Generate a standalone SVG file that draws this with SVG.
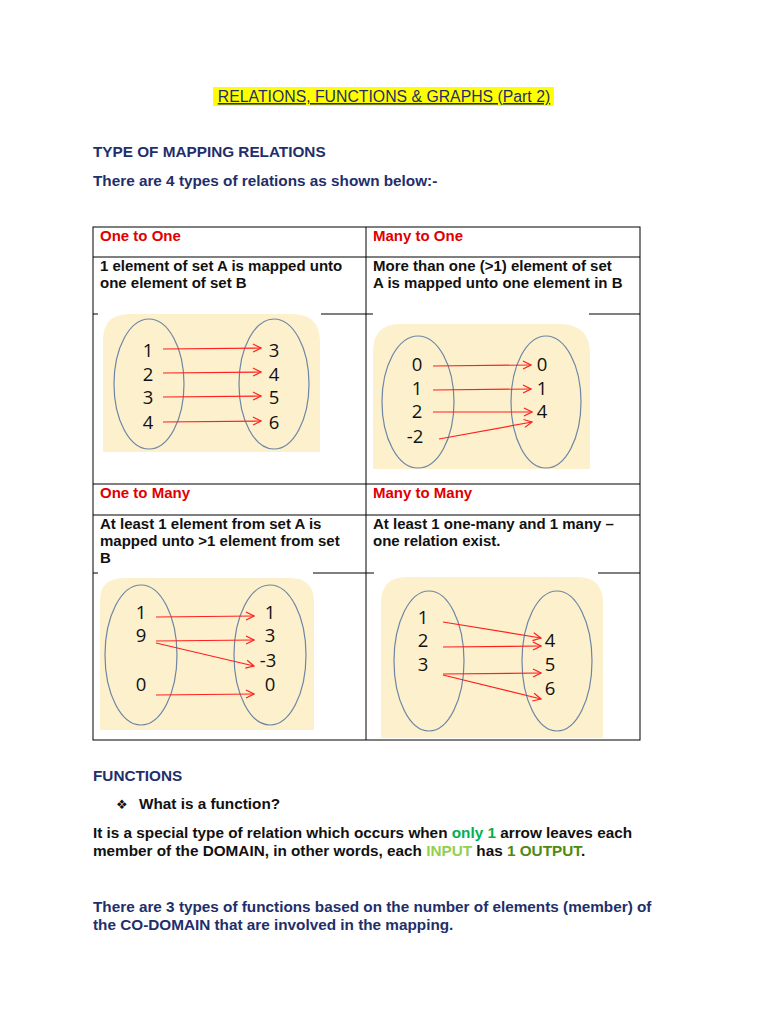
<svg xmlns="http://www.w3.org/2000/svg" width="768" height="1024" viewBox="0 0 768 1024">
<defs>
<marker id="ah" markerWidth="10" markerHeight="10" refX="9" refY="5" orient="auto" markerUnits="userSpaceOnUse"><path d="M1,1 L9,5 L1,9" fill="none" stroke="#ff2020" stroke-width="1.2"/></marker>
</defs>
<style>
text{font-family:"Liberation Sans",Arial,sans-serif}
.b{font-weight:bold;font-size:15px;fill:#111}
.n{font-weight:bold;font-size:15.3px;fill:#1f2f6b}
.r{font-weight:bold;font-size:15px;fill:#e00000}
.p{font-weight:bold;font-size:15.3px;fill:#111}
.num{font-family:"Open Sans","Liberation Sans",sans-serif;font-size:18.5px;fill:#111;text-anchor:middle}
.bg{fill:#fdf0cc}
.el{fill:none;stroke:#6d86a5;stroke-width:1.2}
.ar{stroke:#ff2020;stroke-width:1.2;fill:none;marker-end:url(#ah)}
.tl{stroke:#000;stroke-width:1}
</style>
<rect width="768" height="1024" fill="#fff"/>
<rect x="213" y="87" width="341" height="19" fill="#ffff00"/>
<text x="384" y="102" text-anchor="middle" style="font-size:15.8px;fill:#1f2f6b;text-decoration:underline">RELATIONS, FUNCTIONS &amp; GRAPHS (Part 2)</text>
<text x="93" y="157" class="n">TYPE OF MAPPING RELATIONS</text>
<text x="93" y="186" class="n">There are 4 types of relations as shown below:-</text>
<g id="table">
<rect x="93" y="227" width="547" height="513" fill="none" class="tl"/>
<line x1="366" y1="227" x2="366" y2="740" class="tl"/>
<line x1="93" y1="257" x2="640" y2="257" class="tl"/>
<line x1="93" y1="484" x2="640" y2="484" class="tl"/>
<line x1="93" y1="515" x2="640" y2="515" class="tl"/>
<line x1="93" y1="314" x2="98" y2="314" class="tl"/>
<line x1="321" y1="314" x2="373" y2="314" class="tl"/>
<line x1="589" y1="314" x2="640" y2="314" class="tl"/>
<line x1="93" y1="573" x2="98" y2="573" class="tl"/>
<line x1="313" y1="573" x2="374" y2="573" class="tl"/>
<line x1="598" y1="573" x2="640" y2="573" class="tl"/>
<text x="100" y="241" class="r">One to One</text>
<text x="373" y="241" class="r">Many to One</text>
<text x="100" y="271" class="b">1 element of set A is mapped unto</text>
<text x="100" y="288" class="b">one element of set B</text>
<text x="373" y="271" class="b">More than one (&gt;1) element of set</text>
<text x="373" y="288" class="b">A is mapped unto one element in B</text>
<text x="100" y="498" class="r">One  to Many</text>
<text x="373" y="498" class="r">Many to Many</text>
<text x="100" y="529" class="b">At least 1 element from set A is</text>
<text x="100" y="546" class="b">mapped unto &gt;1 element from set</text>
<text x="100" y="563" class="b">B</text>
<text x="373" y="529" class="b">At least 1 one-many and 1 many –</text>
<text x="373" y="546" class="b">one relation exist.</text>
</g>
<g id="oneToOne">
<path class="bg" d="M103,452 V340 Q103,314 130,314 H292 Q320,314 320,342 V452 Z"/>
<ellipse class="el" cx="149" cy="384" rx="35" ry="65"/>
<ellipse class="el" cx="274" cy="384" rx="35" ry="65"/>
<text class="num" x="148" y="357">1</text><text class="num" x="148" y="381">2</text><text class="num" x="148" y="404">3</text><text class="num" x="148" y="429">4</text>
<text class="num" x="274" y="357">3</text><text class="num" x="274" y="381">4</text><text class="num" x="274" y="404">5</text><text class="num" x="274" y="429">6</text>
</g>
<g id="manyToOne">
<path class="bg" d="M373,469 V352 Q373,324 400,324 H560 Q590,324 590,354 V469 Z"/>
<ellipse class="el" cx="418" cy="402" rx="36" ry="66"/>
<ellipse class="el" cx="546" cy="402" rx="35" ry="66"/>
<text class="num" x="417" y="371">0</text><text class="num" x="417" y="395">1</text><text class="num" x="417" y="418">2</text><text class="num" x="415" y="443">-2</text>
<text class="num" x="542" y="371">0</text><text class="num" x="542" y="395">1</text><text class="num" x="542" y="418">4</text>
</g>
<g id="oneToMany">
<path class="bg" d="M100,730 V600 Q100,578 125,578 H290 Q314,578 314,602 V730 Z"/>
<ellipse class="el" cx="141" cy="655" rx="36" ry="70"/>
<ellipse class="el" cx="270" cy="655" rx="36" ry="70"/>
<text class="num" x="141" y="619">1</text><text class="num" x="141" y="642">9</text><text class="num" x="141" y="691">0</text>
<text class="num" x="270" y="619">1</text><text class="num" x="270" y="642">3</text><text class="num" x="268" y="667">-3</text><text class="num" x="270" y="691">0</text>
</g>
<g id="manyToMany">
<path class="bg" d="M381,738 V603 Q381,577 407,577 H577 Q603,577 603,603 V738 Z"/>
<ellipse class="el" cx="429" cy="661" rx="35" ry="70"/>
<ellipse class="el" cx="557" cy="661" rx="35" ry="70"/>
<text class="num" x="423" y="624">1</text><text class="num" x="423" y="647">2</text><text class="num" x="423" y="671">3</text>
<text class="num" x="550" y="647">4</text><text class="num" x="550" y="671">5</text><text class="num" x="550" y="695">6</text>
</g>
<g id="connectors">
<line class="ar" x1="163" y1="349" x2="261" y2="348"/>
<line class="ar" x1="163" y1="373" x2="261" y2="372"/>
<line class="ar" x1="163" y1="397" x2="261" y2="396"/>
<line class="ar" x1="163" y1="422" x2="261" y2="421"/>
<line class="ar" x1="433" y1="366" x2="531" y2="365"/>
<line class="ar" x1="433" y1="390" x2="531" y2="389"/>
<line class="ar" x1="433" y1="412" x2="532" y2="412"/>
<line class="ar" x1="439" y1="439" x2="532" y2="422"/>
<line class="ar" x1="156" y1="617" x2="254" y2="616"/>
<line class="ar" x1="156" y1="641" x2="254" y2="640"/>
<line class="ar" x1="156" y1="643" x2="254" y2="666"/>
<line class="ar" x1="156" y1="695" x2="254" y2="694"/>
<line class="ar" x1="443" y1="622" x2="541" y2="638"/>
<line class="ar" x1="443" y1="647" x2="541" y2="646"/>
<line class="ar" x1="443" y1="674" x2="541" y2="673"/>
<line class="ar" x1="443" y1="675" x2="541" y2="699"/>
</g>
<text x="93" y="781" class="n">FUNCTIONS</text>
<text x="116" y="809" style="font-family:'DejaVu Sans',sans-serif;font-size:13px;fill:#111">❖</text>
<text x="139" y="809" class="p">What is a function?</text>
<text x="93" y="838" class="p">It is a special type of relation which occurs when <tspan fill="#00b050">only 1</tspan> arrow leaves each</text>
<text x="93" y="856" class="p">member of the DOMAIN, in other words, each <tspan fill="#92d050">INPUT</tspan> has <tspan fill="#4f8a10">1 OUTPUT</tspan>.</text>
<text x="93" y="912" class="n">There are 3 types of functions based on the number of elements (member) of</text>
<text x="93" y="930" class="n">the CO-DOMAIN that are involved in the mapping.</text>
</svg>
